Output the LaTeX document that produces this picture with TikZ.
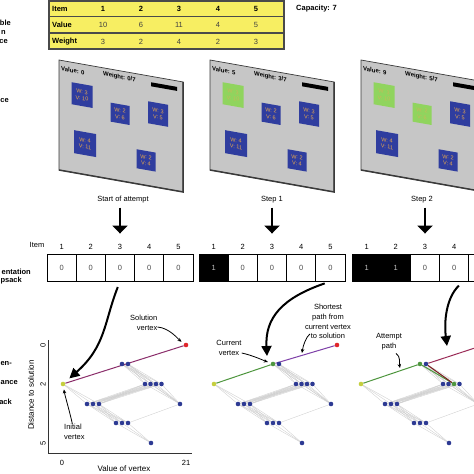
\documentclass[tikz,border=0pt]{standalone}
\usepackage{fontspec}
\setmainfont{Liberation Sans}
\usetikzlibrary{arrows.meta,backgrounds}

\definecolor{tabyellow}{HTML}{F7EE62}
\definecolor{tabline}{HTML}{4A4A4A}
\definecolor{panelgray}{HTML}{C6C6C6}
\definecolor{panelline}{HTML}{3A3A3A}
\definecolor{itemblue}{HTML}{2F3D9F}
\definecolor{itemtxt}{HTML}{E8A84C}
\definecolor{itemgreen}{HTML}{90D45E}
\definecolor{greentxt}{HTML}{C8B85A}
\definecolor{dotblue}{HTML}{2D3A93}
\definecolor{edgegray}{HTML}{CFCFCF}
\definecolor{initcol}{HTML}{C5CF3E}
\definecolor{solred}{HTML}{E0262B}
\definecolor{curgreen}{HTML}{4E963E}
\definecolor{pathone}{HTML}{8B2E6B}
\definecolor{pathtwo}{HTML}{7E40A8}
\definecolor{paththree}{HTML}{9B2D58}
\definecolor{backred}{HTML}{7A1F1F}

\begin{document}
\begin{tikzpicture}[x=1pt,y=-1pt,
  lab/.style={font=\fontsize{7.5}{9.7}\selectfont,inner sep=0pt,align=center},
  side/.style={font=\fontsize{7.5}{9}\selectfont\bfseries,inner sep=0pt,anchor=east},
  tabhead/.style={font=\fontsize{7.5}{9}\selectfont\bfseries,inner sep=0pt},
  tabval/.style={font=\fontsize{7.5}{9}\selectfont,text=black!75,inner sep=0pt},
  pantext/.style={font=\fontsize{6}{7}\selectfont\bfseries,inner sep=0pt,anchor=west,transform shape},
  blueitem/.style={fill=itemblue,text=itemtxt,font=\fontsize{5.5}{6.5}\selectfont,align=center,inner sep=0pt,transform shape},
  greenitem/.style={blueitem,fill=itemgreen,text=greentxt},
  bitzero/.style={draw,line width=0.9pt,minimum width=29.2pt,minimum height=27pt,inner sep=0pt,font=\fontsize{7.5}{8}\selectfont,text=black!70},
  bitone/.style={bitzero,fill=black,text=black!25},
  vblue/.style={circle,fill=dotblue,inner sep=0pt,minimum size=4.6pt},
  vinit/.style={vblue,fill=initcol},
  vsol/.style={vblue,fill=solred},
  vgreen/.style={vblue,fill=curgreen},
  gedge/.style={edgegray,line width=0.35pt},
  bigarrow/.style={line width=2.6pt,-{Triangle[length=8pt,width=15pt]}},
  curvearrow/.style={line width=2pt,-{Triangle[length=10pt,width=10pt]}},
  ann/.style={line width=0.8pt,-{Stealth[length=4pt,width=3.5pt]}},
  axis/.style={line width=1pt,black!80}
]
\useasboundingbox (0,0) rectangle (474,474);
\begin{pgfonlayer}{background}
  \fill[white] (0,0) rectangle (474,474);
\end{pgfonlayer}
\clip (0,0) rectangle (474,474);

% row labels, cut at the left edge
\node[side] (fa) at (11,23) {ble};
\node[side] (fb) at (6,32) {n};
\node[side] (fc) at (8,42) {ce};
\node[side] (fd) at (9,101) {ce};
\node[side] (fe) at (31,272) {entation};
\node[side] (ff) at (22,281) {psack};
\node[side] (fg) at (12,364) {en-};
\node[side] (fh) at (18,383) {ance};
\node[side] (fi) at (12,402) {ack};

% item table
\fill[tabyellow] (49,1) rectangle (284,49);
\draw[tabline,line width=1.1pt] (49,1) rectangle (284,49) (49,16.5) -- (284,16.5) (49,33) -- (284,33);
\node[tabhead,anchor=west] (hitem) at (52,9) {Item};
\node[tabhead,anchor=west] (hval) at (52,25) {Value};
\node[tabhead,anchor=west] (hwt) at (52,42) {Weight};
\foreach \i/\x/\v/\w in {1/103/10/3,2/141/6/2,3/179/11/4,4/218/4/2,5/256/5/3} {
  \node[tabhead] (num\i) at (\x,9) {\i};
  \node[tabval] (val\i) at (\x,25) {\v};
  \node[tabval] (wt\i) at (\x,42) {\w};
}
\node[tabhead,anchor=west] (cap) at (296,9) {Capacity: 7};

% game screens
\foreach \p/\px/\val/\wt/\sa/\sb in {1/59/0/0/blueitem/blueitem,2/210/5/3/greenitem/blueitem,3/361/9/5/greenitem/greenitem} {
  \begin{scope}[shift={(\px,60)},yslant=-0.177]
    \filldraw[fill=panelgray,draw=panelline,line width=0.7pt] (0,0) rectangle (124,110);
    \draw[panelline,line width=1.5pt] (0,110) -- (124,110) -- (124,0);
    \fill[black] (92,6) rectangle (118,10);
    \node[pantext] (pv\p) at (2,8) {Value: \val};
    \node[pantext] (pw\p) at (44,6.5) {Weight: \wt/7};
    \node[\sa,minimum width=21pt,minimum height=22pt] (ia\p) at (23,31) {W: 3\\V: 10};
    \node[\sb,minimum width=19pt,minimum height=19pt] (ib\p) at (61,43) {W: 2\\V: 6};
    \node[blueitem,minimum width=20pt,minimum height=22pt] (ic\p) at (99,36.5) {W: 3\\V: 5};
    \node[blueitem,minimum width=22pt,minimum height=23pt] (id\p) at (26,79) {W: 4\\V: 11};
    \node[blueitem,minimum width=19pt,minimum height=19pt] (ie\p) at (87,85) {W: 2\\V: 4};
  \end{scope}
}

\node[lab] (lbl1) at (123,200) {Start of attempt};
\node[lab] (lbl2) at (272,200) {Step 1};
\node[lab] (lbl3) at (422,200) {Step 2};

% bit strings
\node[lab] (itemlbl) at (37,245) {Item};
\foreach \g/\gx/\na in {1/47/0,2/199/1,3/352/2} {
  \foreach \i in {1,...,5} {
    \ifnum\i>\na\relax
      \node[bitzero] (b\g\i) at ({\gx+(\i-0.5)*29.2},267.5) {\ifnum\g\i=35 \else 0\fi};
    \else
      \node[bitone] (b\g\i) at ({\gx+(\i-0.5)*29.2},267.5) {1};
    \fi
    \ifnum\g\i=35 \else
      \node[lab] (n\g\i) at ({\gx+(\i-0.5)*29.2},247) {\i};
    \fi
  }
}
\foreach \g in {1,2,3}
  \draw[bigarrow,shorten <=4pt,shorten >=20pt] (lbl\g.south -| b\g3.north) -- (b\g3.north);

% state graphs
\foreach \g/\gx/\sa/\sc in {1/0/vblue/vblue,2/151/vgreen/vblue,3/298/vgreen/vgreen} {
  \begin{scope}[shift={(\gx,0)}]
    \node[vinit] (in\g) at (63,384) {};
    \node[vsol] (so\g) at (186,345) {};
    \node[\sa] (aa\g) at (122,364) {};
    \node[vblue] (ab\g) at (128,364) {};
    \node[vblue] (ba\g) at (145,384) {};
    \node[vblue] (bb\g) at (150.5,384) {};
    \node[\sc] (bc\g) at (156,384) {};
    \node[vblue] (bd\g) at (161.5,384) {};
    \node[vblue] (ca\g) at (87,404) {};
    \node[vblue] (cb\g) at (93,404) {};
    \node[vblue] (cc\g) at (99,404) {};
    \node[vblue] (cs\g) at (180,404) {};
    \node[vblue] (da\g) at (116,423) {};
    \node[vblue] (db\g) at (122,423) {};
    \node[vblue] (dc\g) at (128,423) {};
    \node[vblue] (ea\g) at (151,443) {};
    \begin{pgfonlayer}{background}
      \foreach \vc in {ca,cb,cc} {
        \draw[gedge] (in\g) -- (\vc\g);
        \foreach \vb in {ba,bb,bc,bd} \draw[gedge] (\vc\g) -- (\vb\g);
        \foreach \vd in {da,db,dc} \draw[gedge] (\vc\g) -- (\vd\g);
      }
      \foreach \va in {aa,ab} {
        \foreach \vb in {ba,bb,bc,bd} \draw[gedge] (\va\g) -- (\vb\g);
        \draw[gedge] (\va\g) -- (cs\g);
      }
      \foreach \vb in {ba,bb,bc,bd} \draw[gedge] (\vb\g) -- (cs\g);
      \foreach \vd in {da,db,dc} \draw[gedge] (\vd\g) -- (ea\g);
      \draw[gedge] (dc\g) -- (cs\g);
    \end{pgfonlayer}
  \end{scope}
}
\begin{pgfonlayer}{background}
  \draw[pathone,line width=1pt] (in1) -- (so1);
  \draw[curgreen,line width=1pt] (in2) -- (aa2);
  \draw[pathtwo,line width=1pt] (aa2) -- (so2);
  \draw[curgreen,line width=1pt] (in3) -- (aa3) -- (bc3);
  \draw[backred,line width=1pt] (ab3) -- (bc3);
  \draw[paththree,line width=1pt] (ab3) -- (so3);
\end{pgfonlayer}

% axes of the first graph
\draw[axis] (48,340) -- (48,453) -- (192,453);
\node[lab,rotate=90] (y0) at (43,345) {0};
\node[lab,rotate=90] (y2) at (43,384) {2};
\node[lab,rotate=90] (y5) at (43,443) {5};
\node[lab,rotate=90,font=\fontsize{8}{9}\selectfont] (ylab) at (31,395) {Distance to solution};
\node[lab] (x0) at (62,463) {0};
\node[lab] (x21) at (186,463) {21};
\node[lab,font=\fontsize{8}{9}\selectfont] (xlab) at (124,468.5) {Value of vertex};

% notes
\node[lab,align=right,anchor=east] (soltxt) at (157.5,323) {Solution\\vertex};
\draw[ann,shorten >=3pt] ([yshift=-4pt]soltxt.east) .. controls +(12,1) and +(-8,-6) .. (so1);
\node[lab,align=left,anchor=west] (inittxt) at (64,432) {Initial\\vertex};
\draw[ann,shorten >=3pt] ([xshift=-2pt]inittxt.north) .. controls +(-2,-10) and +(2,12) .. (in1);
\node[lab] (curtxt) at (229,348) {Current\\vertex};
\draw[ann,shorten >=3pt] ([yshift=-5pt]curtxt.east) .. controls +(10,2) and +(-8,-3) .. (aa2);
\node[lab] (shorttxt) at (328,321.5) {Shortest\\path from\\current vertex\\to solution};
\coordinate (shortend) at (302,353);
\draw[ann] ([xshift=5pt,yshift=5pt]shorttxt.south west) .. controls +(-4,3) and +(1,-7) .. (shortend);
\node[lab] (atttxt) at (389,342) {Attempt\\path};
\coordinate (attend) at (400,368);
\draw[ann] ([xshift=7pt,yshift=-3pt]atttxt.south) .. controls +(5,3) and +(-1,-5) .. (attend);

% from bit strings down to the graphs
\coordinate (tip2) at (267,356);
\coordinate (tip3) at (447,346);
\draw[curvearrow,shorten <=6pt,shorten >=6pt] (b13.south) .. controls (104,322) and (106,346) .. (in1);
\draw[curvearrow,shorten <=6pt] (b25.south) .. controls (282,298) and (265,318) .. (tip2);
\draw[curvearrow,shorten <=6pt] ([xshift=9pt]b34.south) .. controls (446,298) and (444,322) .. (tip3);
\end{tikzpicture}
\end{document}
